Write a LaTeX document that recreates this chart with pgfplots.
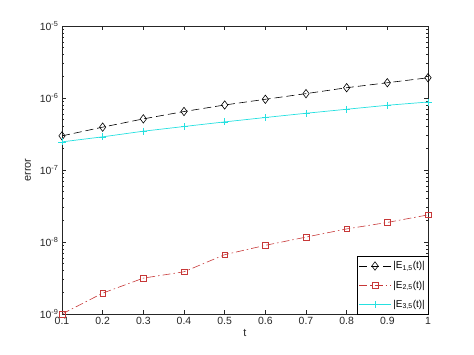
\documentclass[border=0pt]{standalone}
\usepackage{pgfplots}
\pgfplotsset{compat=1.18}
\usepackage{fontspec}
\setmainfont{Liberation Sans}
\definecolor{axgray}{rgb}{0.15,0.15,0.15}
\definecolor{c1}{rgb}{0,0,0}
\definecolor{c2}{rgb}{0.78,0.22,0.22}
\definecolor{c3}{rgb}{0.15,0.88,0.88}
\begin{document}
\begin{tikzpicture}
\begin{axis}[
  at={(0,0)}, anchor=south west,
  scale only axis,
  width=366bp, height=288bp,
  xmin=0.1, xmax=1,
  ymode=log, ymin=1e-9, ymax=1e-5,
  xtick={0.1,0.2,0.3,0.4,0.5,0.6,0.7,0.8,0.9,1},
  xticklabels={0.1,0.2,0.3,0.4,0.5,0.6,0.7,0.8,0.9,1},
  ytick={1e-9,1e-8,1e-7,1e-6,1e-5},
  yticklabels={10\textsuperscript{-9},10\textsuperscript{-8},10\textsuperscript{-7},10\textsuperscript{-6},10\textsuperscript{-5}},
  tick align=inside,
  major tick length=4bp, minor tick length=2.2bp,
  axis line style={axgray, line width=0.5pt},
  every tick/.style={axgray, line width=0.4pt},
  tick label style={font=\fontsize{10.5}{12}\selectfont, text=axgray},
  xlabel={t}, ylabel={error},
  label style={font=\fontsize{11}{13}\selectfont, text=axgray},
  xlabel style={yshift=2bp},
  ylabel style={yshift=2bp},
  legend style={at={(1,0)}, anchor=south east, draw=black, line width=0.5pt,
    font=\fontsize{10}{12}\selectfont, inner xsep=1bp, inner ysep=3bp,
    row sep=6.5bp},
  legend cell align=left,
  legend image code/.code={\draw[mark repeat=2,mark phase=2] plot coordinates {(-2bp,0bp) (14bp,0bp) (30bp,0bp)};},
]
\addplot[c1, dash pattern=on 8bp off 4bp, line width=0.6pt, mark=diamond, mark size=4.2bp, mark options={solid, line width=0.6pt}]
  coordinates {(0.1,2.98e-7) (0.2,3.94e-7) (0.3,5.13e-7) (0.4,6.49e-7) (0.5,8.0e-7) (0.6,9.6e-7) (0.7,1.15e-6) (0.8,1.39e-6) (0.9,1.63e-6) (1.0,1.91e-6)};
\addlegendentry{|E\textsubscript{1,5}(t)|}
\addplot[c2, dash pattern=on 8bp off 3bp on 1.5bp off 3bp, line width=0.6pt, mark=square, mark size=2.8bp, mark options={solid, line width=0.6pt}]
  coordinates {(0.1,1.0e-9) (0.2,1.95e-9) (0.3,3.15e-9) (0.4,3.86e-9) (0.5,6.67e-9) (0.6,8.99e-9) (0.7,1.17e-8) (0.8,1.52e-8) (0.9,1.87e-8) (1.0,2.38e-8)};
\addlegendentry{|E\textsubscript{2,5}(t)|}
\addplot[c3, solid, line width=0.7pt, mark=+, mark size=3.5bp, mark options={solid, line width=0.6pt}]
  coordinates {(0.1,2.46e-7) (0.2,2.89e-7) (0.3,3.46e-7) (0.4,4.02e-7) (0.5,4.66e-7) (0.6,5.36e-7) (0.7,6.14e-7) (0.8,6.98e-7) (0.9,7.93e-7) (1.0,8.8e-7)};
\addlegendentry{|E\textsubscript{3,5}(t)|}
\end{axis}
\path (-62bp,-41bp) rectangle (412bp,314bp);
\end{tikzpicture}
\end{document}
